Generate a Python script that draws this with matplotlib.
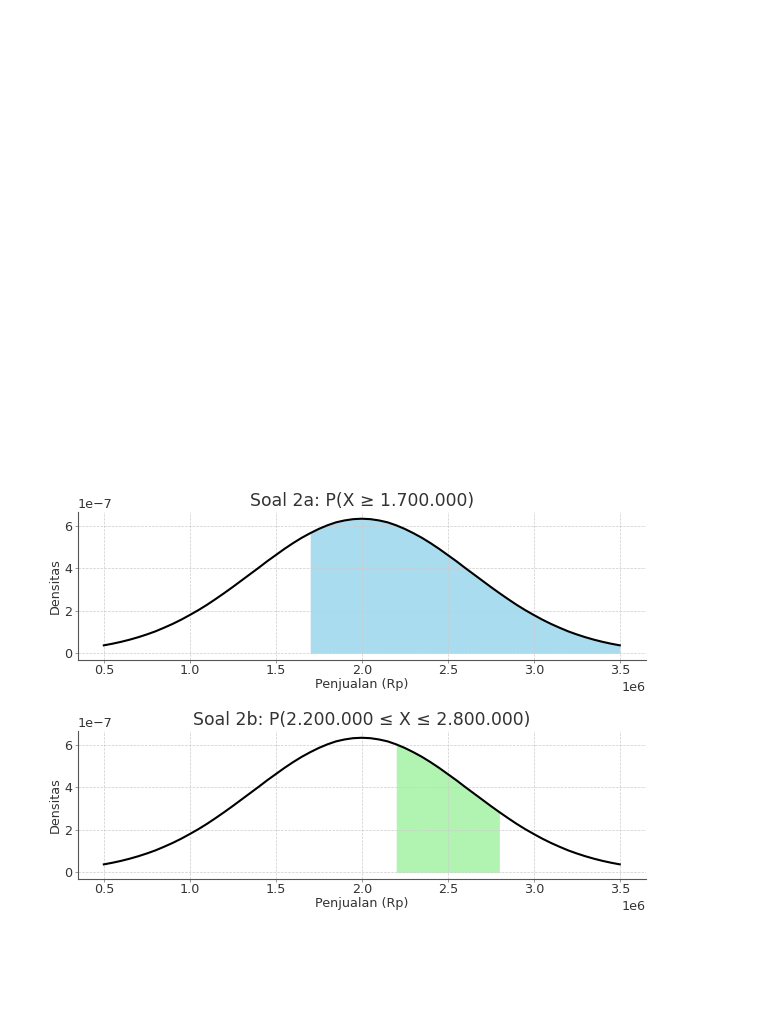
import matplotlib
matplotlib.use('Agg')
import matplotlib.pyplot as plt
import numpy as np

# Penjualan (Rp, x 1e6) dan densitas (x 1e-7)
penjualan = [0.50, 0.55, 0.60, 0.65, 0.70, 0.75, 0.80, 0.85, 0.90, 0.95,
             1.00, 1.05, 1.10, 1.15, 1.20, 1.25, 1.30, 1.35, 1.40, 1.45,
             1.50, 1.55, 1.60, 1.65, 1.70, 1.75, 1.80, 1.85, 1.90, 1.95,
             2.00, 2.05, 2.10, 2.15, 2.20, 2.25, 2.30, 2.35, 2.40, 2.45,
             2.50, 2.55, 2.60, 2.65, 2.70, 2.75, 2.80, 2.85, 2.90, 2.95,
             3.00, 3.05, 3.10, 3.15, 3.20, 3.25, 3.30, 3.35, 3.40, 3.45,
             3.50]
densitas = [0.372, 0.448, 0.536, 0.638, 0.754, 0.885, 1.03, 1.20, 1.38, 1.58,
            1.80, 2.03, 2.28, 2.55, 2.83, 3.12, 3.42, 3.72, 4.02, 4.33,
            4.62, 4.91, 5.18, 5.43, 5.65, 5.85, 6.02, 6.16, 6.25, 6.31,
            6.33, 6.31, 6.25, 6.16, 6.02, 5.85, 5.65, 5.43, 5.18, 4.91,
            4.62, 4.33, 4.02, 3.72, 3.42, 3.12, 2.83, 2.55, 2.28, 2.03,
            1.80, 1.58, 1.38, 1.20, 1.03, 0.885, 0.754, 0.638, 0.536, 0.448,
            0.372]

soal_a = {'judul': 'Soal 2a: P(X ≥ 1.700.000)', 'bawah': 1.7, 'atas': 3.5, 'warna': 'skyblue'}
soal_b = {'judul': 'Soal 2b: P(2.200.000 ≤ X ≤ 2.800.000)', 'bawah': 2.2, 'atas': 2.8, 'warna': 'lightgreen'}

x = np.array(penjualan) * 1e6
y = np.array(densitas) * 1e-7

teks = '#333333'
plt.rcParams['font.family'] = ['DejaVu Sans']
plt.rcParams['text.color'] = teks
plt.rcParams['axes.labelcolor'] = teks
plt.rcParams['xtick.color'] = teks
plt.rcParams['ytick.color'] = teks

fig = plt.figure(figsize=(7.68, 10.24), dpi=100)
posisi = [[0.1016, 0.3555, 0.739, 0.1445],
          [0.1016, 0.1416, 0.739, 0.1445]]

for pos, soal in zip(posisi, [soal_a, soal_b]):
    ax = fig.add_axes(pos)
    ax.plot(x, y, color='black', lw=1.5)
    mask = (x >= soal['bawah'] * 1e6 - 1) & (x <= soal['atas'] * 1e6 + 1)
    ax.fill_between(x[mask], y[mask], color=soal['warna'], alpha=0.7, lw=0)
    ax.set_title(soal['judul'], fontsize=12.4, pad=4)
    ax.set_xlabel('Penjualan (Rp)', fontsize=9.2, labelpad=0.5)
    ax.set_ylabel('Densitas', fontsize=9.2, labelpad=2)
    ax.tick_params(labelsize=9.2, length=2, width=0.6, pad=2, color='#888888')
    ax.tick_params(axis='x', pad=0.8)
    ax.xaxis.get_offset_text().set_fontsize(9.2)
    ax.yaxis.get_offset_text().set_fontsize(9.2)
    ax.grid(True, ls='--', lw=0.5, color='#cccccc')
    ax.spines['top'].set_visible(False)
    ax.spines['right'].set_visible(False)
    ax.spines['left'].set_color('#555555')
    ax.spines['bottom'].set_color('#555555')

fig.savefig('out.png', dpi=100)
